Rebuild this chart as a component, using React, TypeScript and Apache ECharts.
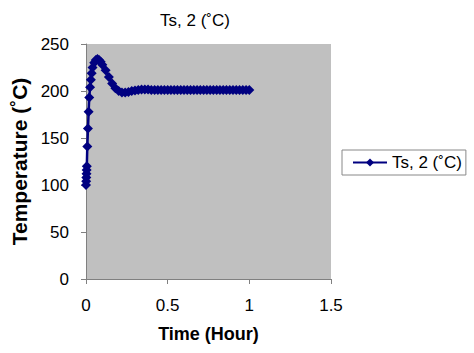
import React, { useEffect, useRef } from "react";
import * as echarts from "echarts";

const timeHours = [
  0, 0.001, 0.002, 0.003, 0.004, 0.005, 0.008, 0.012, 0.016, 0.02, 0.025, 0.03, 0.035, 0.04, 0.05,
  0.06, 0.07, 0.08, 0.09, 0.1, 0.12, 0.14, 0.16, 0.18, 0.2, 0.22, 0.24, 0.26, 0.28, 0.3, 0.32,
  0.34, 0.36, 0.38, 0.4, 0.42, 0.44, 0.46, 0.48, 0.5, 0.52, 0.54, 0.56, 0.58, 0.6, 0.62, 0.64,
  0.66, 0.68, 0.7, 0.72, 0.74, 0.76, 0.78, 0.8, 0.82, 0.84, 0.86, 0.88, 0.9, 0.92, 0.94, 0.96,
  0.98, 1.0,
];
const tempC = [
  100, 104, 108, 112, 116, 120, 141, 160, 178, 193, 204, 212, 219, 225, 230,
  233, 234, 233, 231, 228, 222, 215, 208, 203, 200, 198.5, 198.5, 199, 200, 200.5, 201,
  201.5, 201.5, 201.5, 201, 201, 201, 201, 201, 201, 201, 201, 201, 201, 201, 201, 201,
  201, 201, 201, 201, 201, 201, 201, 201, 201, 201, 201, 201, 201, 201, 201, 201,
  201, 201,
];
const seriesName = "Ts, 2 (˚C)";
const xTicks = [0, 0.5, 1, 1.5];
const yTicks = [0, 50, 100, 150, 200, 250];

export default function App() {
  const ref = useRef<HTMLDivElement>(null);
  useEffect(() => {
    if (!ref.current) return;
    const chart = echarts.init(ref.current, null, { renderer: "svg" });
    const font = "Liberation Sans, Arial, sans-serif";
    chart.setOption({
      animation: false,
      backgroundColor: "#ffffff",
      textStyle: { fontFamily: font },
      title: {
        text: seriesName,
        left: 190,
        top: 7,
        textAlign: "center",
        textStyle: { fontFamily: font, fontSize: 17, fontWeight: "normal", color: "#000" },
      },
      legend: {
        orient: "vertical",
        left: 342,
        top: 150,
        padding: [4, 4, 4, 10],
        borderColor: "#888",
        borderWidth: 1,
        backgroundColor: "#fff",
        itemWidth: 34,
        itemHeight: 10,
        textStyle: { fontFamily: font, fontSize: 17, color: "#000" },
        data: [seriesName],
      },
      grid: {
        left: 86,
        top: 44,
        width: 245,
        height: 235,
        show: true,
        backgroundColor: "#c0c0c0",
        borderWidth: 0,
      },
      xAxis: {
        type: "value",
        min: xTicks[0],
        max: xTicks[xTicks.length - 1],
        interval: 0.5,
        name: "Time (Hour)",
        nameLocation: "middle",
        nameGap: 46,
        nameTextStyle: { fontFamily: font, fontSize: 18, fontWeight: "bold", color: "#000" },
        axisLine: { show: true, lineStyle: { color: "#808080", width: 1 } },
        axisTick: { show: true, inside: false, length: 5, lineStyle: { color: "#808080" } },
        axisLabel: { fontFamily: font, fontSize: 17, color: "#000", margin: 18 },
        splitLine: { show: false },
      },
      yAxis: {
        type: "value",
        min: yTicks[0],
        max: yTicks[yTicks.length - 1],
        interval: 50,
        name: "Temperature (˚C)",
        nameLocation: "middle",
        nameGap: 54,
        nameTextStyle: { fontFamily: font, fontSize: 21, fontWeight: "bold", color: "#000" },
        axisLine: { show: true, lineStyle: { color: "#808080", width: 1 } },
        axisTick: { show: true, inside: false, length: 5, lineStyle: { color: "#808080" } },
        axisLabel: { fontFamily: font, fontSize: 17, color: "#000", margin: 17 },
        splitLine: { show: false },
      },
      series: [
        {
          name: seriesName,
          type: "line",
          data: timeHours.map((t, i) => [t, tempC[i]]),
          symbol: "diamond",
          symbolSize: 10,
          showAllSymbol: true,
          lineStyle: { color: "#000080", width: 2.5 },
          itemStyle: { color: "#000080" },
        },
      ],
    });
    return () => chart.dispose();
  }, []);
  return (
    <div
      ref={ref}
      style={{ position: "absolute", left: 0, top: 0, width: 474, height: 353 }}
    />
  );
}
